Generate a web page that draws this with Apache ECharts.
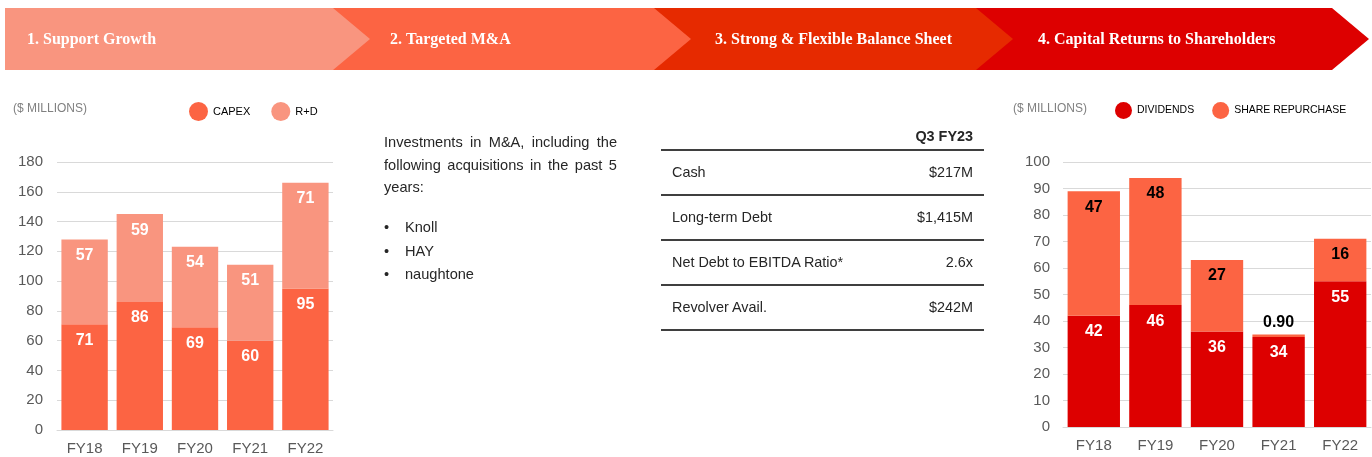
<!DOCTYPE html>
<html>
<head>
<meta charset="utf-8">
<title>Capital allocation</title>
<script src="https://cdn.jsdelivr.net/npm/echarts@6/dist/echarts.min.js"></script>
<style>
  html, body { margin: 0; padding: 0; background: #fff; }
  body { width: 1372px; height: 457px; position: relative; overflow: hidden;
         font-family: "Liberation Sans", Arial, sans-serif; color: #262626; }
  #chart { position: absolute; left: 0; top: 0; width: 1372px; height: 457px; }
  .ma-text { position: absolute; left: 384px; top: 131px; width: 233px;
             font-size: 14.6px; line-height: 22.5px; text-align: justify; }
  .ma-list { position: absolute; left: 384px; top: 216px; font-size: 14.6px; line-height: 23.5px; }
  .ma-list div { position: relative; padding-left: 21px; }
  .ma-list div:before { content: "\2022"; position: absolute; left: 0; }
  .bs-table { position: absolute; left: 661px; top: 124px; width: 323px; font-size: 14.4px; }
  .bs-head { height: 25px; line-height: 25px; text-align: right; padding-right: 11px;
             font-weight: bold; border-bottom: 2px solid #3f3f3f; }
  .bs-row { height: 43px; line-height: 43px; border-bottom: 2px solid #3f3f3f;
            display: flex; justify-content: space-between; padding: 0 11px; }
</style>
</head>
<body>
<div id="chart"></div>

<div class="ma-text">Investments in M&amp;A, including the following acquisitions in the past 5 years:</div>
<div class="ma-list" id="acq"></div>
<div class="bs-table" id="balance"></div>

<script>
// chevron banner steps
const steps = ['1. Support Growth', '2. Targeted M&A', '3. Strong & Flexible Balance Sheet', '4. Capital Returns to Shareholders'];

// left chart: support growth
const years = ['FY18', 'FY19', 'FY20', 'FY21', 'FY22'];
const capex = [71, 86, 69, 60, 95];
const rnd = [57, 59, 54, 51, 71];

// right chart: capital returns
const dividends = [42, 46, 36, 34, 55];
const repurchase = [47, 48, 27, 0.9, 16];

// middle panels
const acquisitions = ['Knoll', 'HAY', 'naughtone'];
const balanceHeader = 'Q3 FY23';
const balanceLabels = ['Cash', 'Long-term Debt', 'Net Debt to EBITDA Ratio*', 'Revolver Avail.'];
const balanceValues = ['$217M', '$1,415M', '2.6x', '$242M'];

document.getElementById('acq').innerHTML = acquisitions.map(a => `<div>${a}</div>`).join('');
document.getElementById('balance').innerHTML =
  `<div class="bs-head">${balanceHeader}</div>` +
  balanceLabels.map((l, i) => `<div class="bs-row"><span>${l}</span><span>${balanceValues[i]}</span></div>`).join('');

const FONT = '"Liberation Sans", Arial, sans-serif';
const LIGHT = '#F9957F', ORANGE = '#FC6443', SCARLET = '#E62A00', RED = '#DD0000';

// chevrons: drawn right to left so each tip sits on top of the next body
const chevrons = [
  { x0: 5, x1: 333, color: LIGHT, tx: 27 },
  { x0: 333, x1: 654, color: ORANGE, tx: 390 },
  { x0: 654, x1: 976, color: SCARLET, tx: 715 },
  { x0: 976, x1: 1332, color: RED, tx: 1038 }
];
const bandTop = 8, bandBot = 70, bandMid = 39, tipLen = 37;
const graphic = [];
chevrons.slice().reverse().forEach((c, k) => {
  const i = chevrons.length - 1 - k;
  graphic.push({
    type: 'polygon', silent: true, z: 10 + k,
    shape: { points: [[c.x0, bandTop], [c.x1, bandTop], [c.x1 + tipLen, bandMid], [c.x1, bandBot], [c.x0, bandBot]] },
    style: { fill: c.color }
  });
  graphic.push({
    type: 'text', silent: true, z: 20, left: c.tx, top: bandMid - 7,
    style: { text: steps[i], fill: '#fff', font: 'bold 16px "Liberation Serif", "Times New Roman", serif' }
  });
});
graphic.push(
  { type: 'text', left: 13, top: 103, style: { text: '($ MILLIONS)', fill: '#808080', font: '12px ' + FONT } },
  { type: 'text', left: 1013, top: 103, style: { text: '($ MILLIONS)', fill: '#808080', font: '12px ' + FONT } }
);

const segLabel = (color) => ({
  show: true, position: 'insideTop', distance: 8,
  color: color, fontWeight: 'bold', fontSize: 16, fontFamily: FONT,
  formatter: p => (p.value < 1 ? p.value.toFixed(2) : String(p.value))
});

const catAxis = (gi) => ({
  type: 'category', gridIndex: gi, data: years,
  axisLine: { lineStyle: { color: '#D9D9D9' } },
  axisTick: { show: false },
  axisLabel: { color: '#595959', fontSize: 15, margin: 11, fontFamily: FONT }
});
const valAxis = (gi, max, interval, margin) => ({
  type: 'value', gridIndex: gi, min: 0, max: max, interval: interval,
  axisLine: { show: false }, axisTick: { show: false },
  axisLabel: { color: '#595959', fontSize: 15, margin: margin, fontFamily: FONT },
  splitLine: { lineStyle: { color: '#D9D9D9', width: 1 } }
});

const chart = echarts.init(document.getElementById('chart'), null, { renderer: 'canvas' });
chart.setOption({
  animation: false,
  textStyle: { fontFamily: FONT },
  graphic: graphic,
  legend: [
    {
      data: ['CAPEX', 'R+D'], left: 184, top: 97, icon: 'circle',
      itemWidth: 19, itemHeight: 19, itemGap: 21,
      textStyle: { fontSize: 11, color: '#000' }
    },
    {
      data: ['DIVIDENDS', 'SHARE REPURCHASE'], left: 1110, top: 97, icon: 'circle',
      itemWidth: 17, itemHeight: 17, itemGap: 18,
      textStyle: { fontSize: 10.5, color: '#000' }
    }
  ],
  grid: [
    { left: 57, right: 1039, top: 162, bottom: 27 },
    { left: 1063, right: 1, top: 162, bottom: 30 }
  ],
  xAxis: [catAxis(0), catAxis(1)],
  yAxis: [valAxis(0, 180, 20, 14), valAxis(1, 100, 10, 13)],
  series: [
    {
      name: 'CAPEX', type: 'bar', stack: 'growth', xAxisIndex: 0, yAxisIndex: 0,
      barCategoryGap: '16%', data: capex,
      itemStyle: { color: ORANGE }, label: segLabel('#fff')
    },
    {
      name: 'R+D', type: 'bar', stack: 'growth', xAxisIndex: 0, yAxisIndex: 0,
      barCategoryGap: '16%', data: rnd,
      itemStyle: { color: LIGHT }, label: segLabel('#fff')
    },
    {
      name: 'DIVIDENDS', type: 'bar', stack: 'returns', xAxisIndex: 1, yAxisIndex: 1,
      barCategoryGap: '15%', data: dividends,
      itemStyle: { color: RED }, label: segLabel('#fff')
    },
    {
      name: 'SHARE REPURCHASE', type: 'bar', stack: 'returns', xAxisIndex: 1, yAxisIndex: 1,
      barCategoryGap: '15%',
      data: repurchase.map(v => (v < 5 ? { value: v, label: { position: 'top', distance: 4 } } : v)),
      itemStyle: { color: ORANGE }, label: segLabel('#000')
    }
  ]
});
</script>
</body>
</html>
